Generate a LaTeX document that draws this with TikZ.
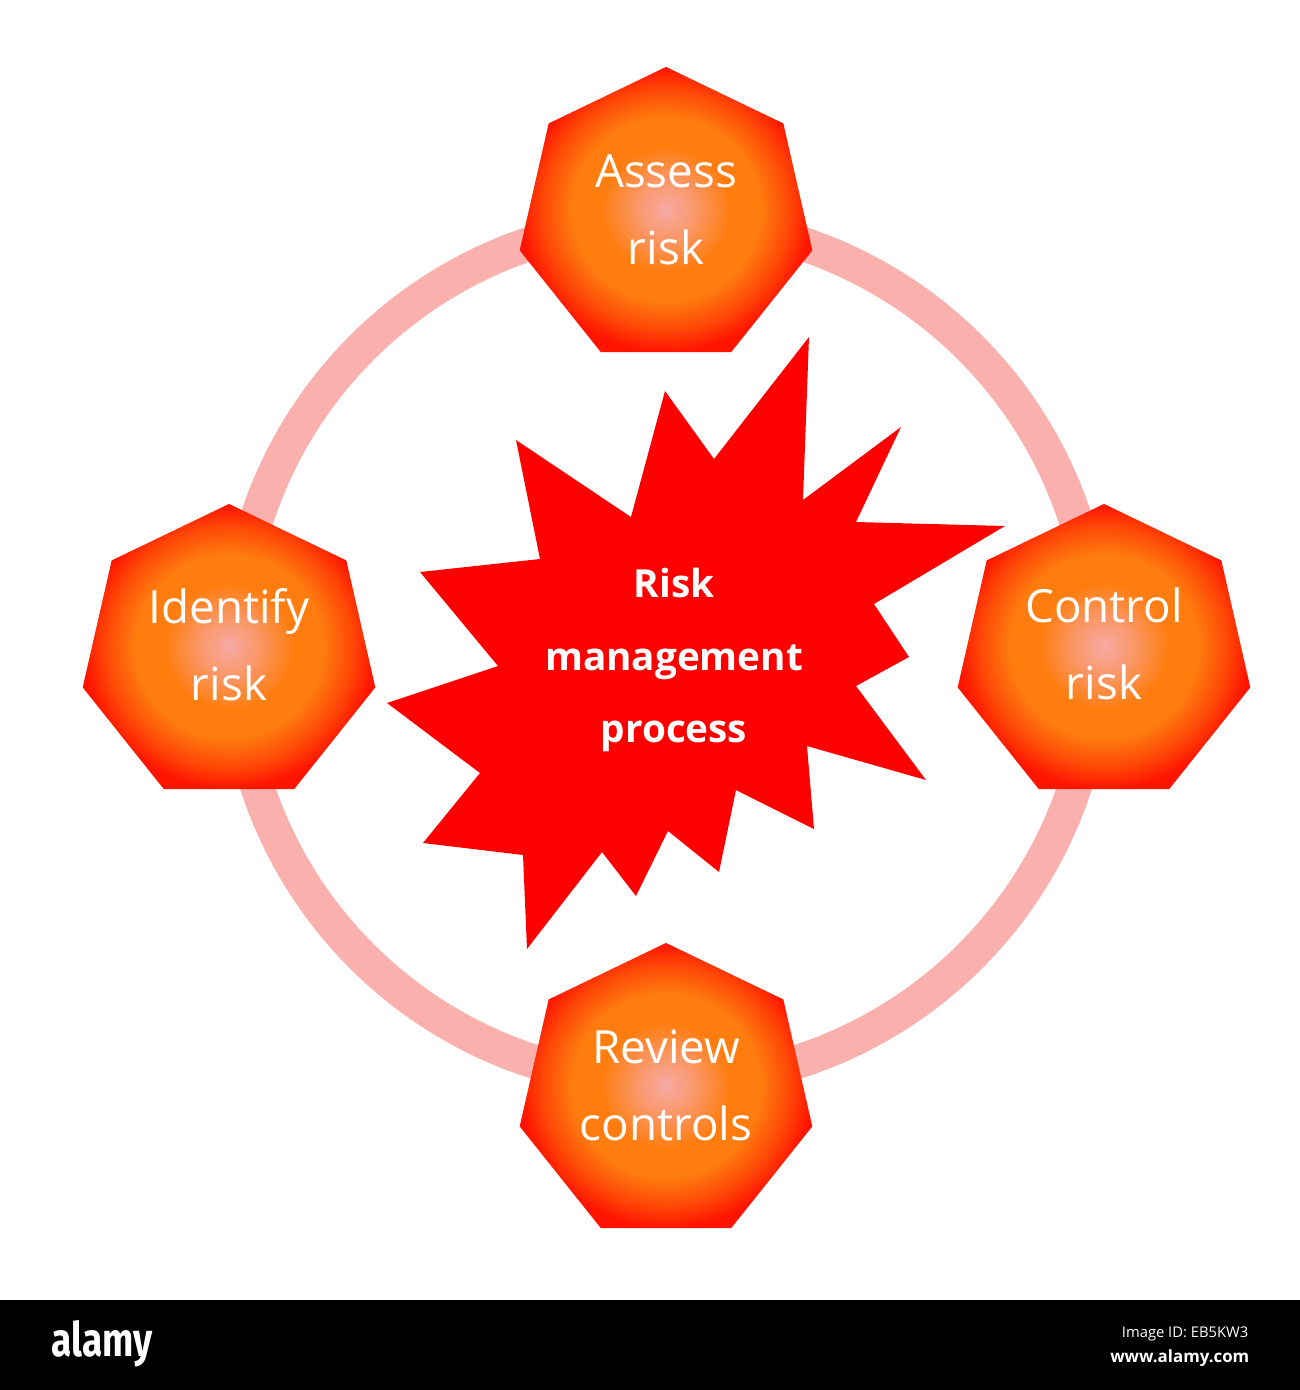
\documentclass[tikz,border=0pt]{standalone}
\usepackage{fontspec}
\setmainfont{Open Sans}
\newfontfamily\logofont{Fira Sans}
\usetikzlibrary{positioning, shapes.geometric}

\definecolor{ringpink}{RGB}{250,176,172}
\definecolor{burstred}{RGB}{255,0,0}
\definecolor{heptcore}{RGB}{246,170,165}
\definecolor{heptorange}{RGB}{255,125,15}
\definecolor{heptred}{RGB}{255,20,0}
\pgfdeclareradialshading{heptglow}{\pgfpoint{0bp}{0bp}}{%
  color(0bp)=(heptcore); color(5bp)=(heptorange!40!heptcore); color(11bp)=(heptorange);
  color(16bp)=(heptorange); color(21bp)=(heptorange!50!heptred); color(25bp)=(heptred); color(50bp)=(heptred)}

\tikzset{
  hept/.style={regular polygon, regular polygon sides=7, minimum size=3cm, inner sep=0pt, shade, shading=heptglow},
  hepttext/.style={text=white, align=center, font=\fontsize{13}{21.9}\selectfont},
  bursttext/.style={text=white, align=center, font=\bfseries\fontsize{11}{20.5}\selectfont},
  bandtext/.style={text=white, inner sep=0pt},
}

\begin{document}
\begin{tikzpicture}[x=0.01cm, y=-0.01cm]
	\fill[white] (0,0) rectangle (1300,1390);
	\useasboundingbox (0,0) rectangle (1300,1390);
	% ring
	\draw[ringpink, line width=0.34cm] (666,652) circle[radius=4.3cm];
	% burst
	\fill[burstred] (809,337) -- (803,500) -- (901,427) -- (856,522) -- (1005,526) -- (874,604) -- (909,657)
		-- (856,686) -- (926,780) -- (807,746) -- (814,829) -- (736,790) -- (719,872) -- (668,831)
		-- (636,896) -- (602,852) -- (527,949) -- (523,855) -- (423,843) -- (480,773) -- (387,703)
		-- (498,666) -- (420,572) -- (540,559) -- (516,440) -- (631,517) -- (665,391) -- (714,459) -- cycle;
	\node[bursttext] (core) at (674,660) {Risk\\management\\process};
	% stages
	\node[hept] (assess) at (666,217) {};
	\node[hept] (identify) at (229,654) {};
	\node[hept] (control) at (1104,654) {};
	\node[hept] (review) at (666,1093) {};
	\node[hepttext] (assesstxt) at (666,210) {Assess\\risk};
	\node[hepttext] (identifytxt) at (229,645) {Identify\\risk};
	\node[hepttext] (controltxt) at (1104,644) {Control\\risk};
	\node[hepttext] (reviewtxt) at (666,1085) {Review\\controls};
	% band
	\fill[black] (0,1300) rectangle (1300,1390);
	\node[bandtext, anchor=base west, font=\logofont\bfseries\fontsize{13.5}{13.5}\selectfont] (logo) at (51,1356) {\scalebox{0.78}[1]{alamy}};
	\node[bandtext, anchor=base east, font=\fontsize{4.2}{5}\selectfont] (imageid) at (1249,1337) {Image ID: EB5KW3};
	\node[bandtext, anchor=base east, font=\bfseries\fontsize{4.8}{5}\selectfont] (website) at (1250,1362) {www.alamy.com};
\end{tikzpicture}
\end{document}
